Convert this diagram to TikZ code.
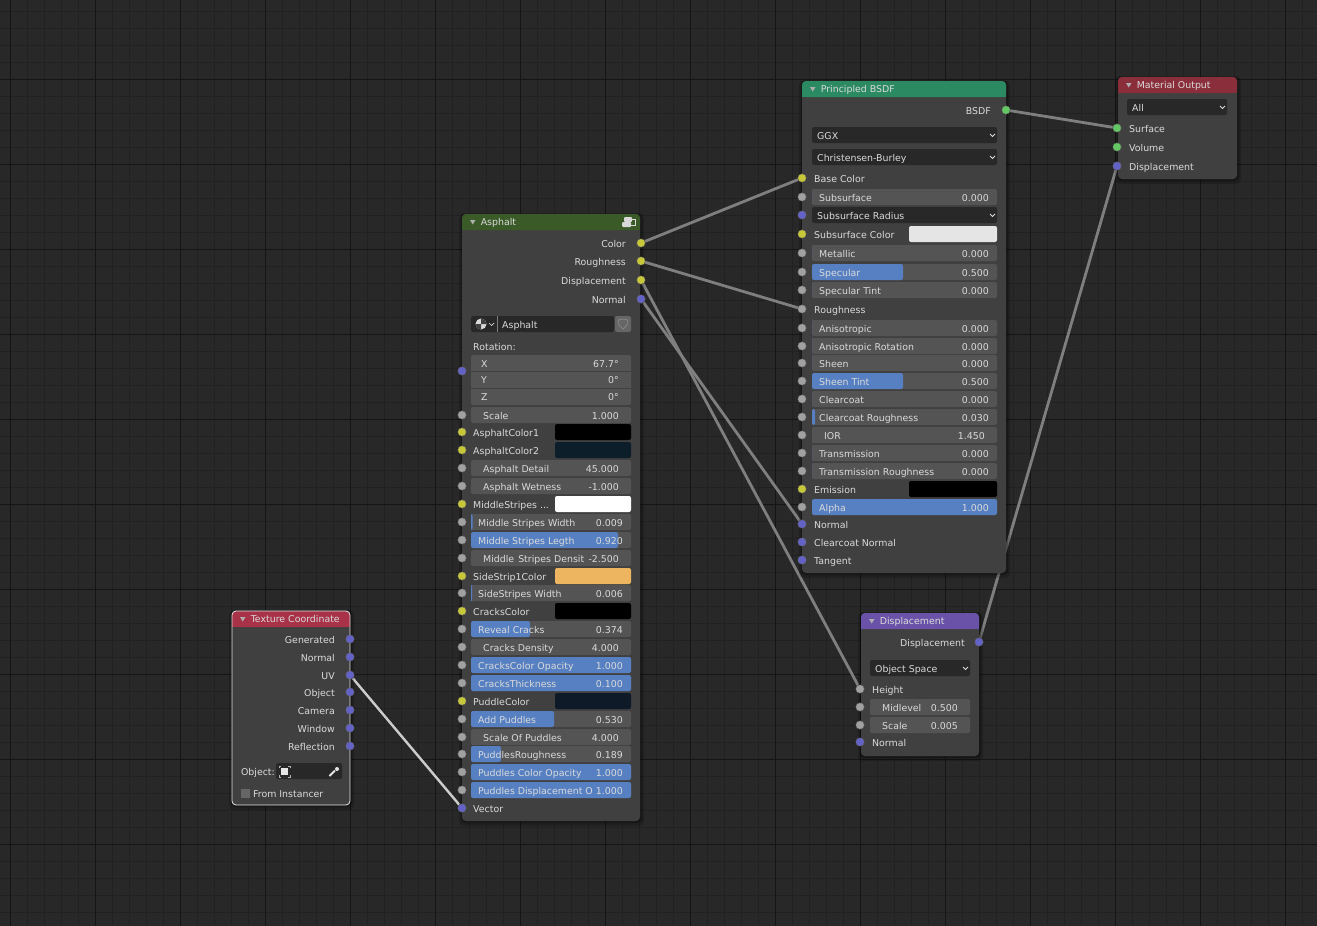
\documentclass[tikz,border=0pt]{standalone}
\usepackage{fontspec}
\setmainfont{DejaVu Sans}
\pgfdeclarelayer{gridlayer}
\pgfdeclarelayer{linklayer}
\pgfsetlayers{gridlayer,linklayer,main}
\definecolor{bgcol}{HTML}{282828}
\definecolor{minorcol}{HTML}{212121}
\definecolor{majorcol}{HTML}{151515}
\definecolor{bodycol}{HTML}{404040}
\definecolor{fieldcol}{HTML}{545454}
\definecolor{menucol}{HTML}{282828}
\definecolor{barcol}{HTML}{5680C2}
\definecolor{textcol}{HTML}{DADADA}
\definecolor{yellowcol}{HTML}{C7C73A}
\definecolor{greycol}{HTML}{A1A1A1}
\definecolor{bluecol}{HTML}{6363C7}
\definecolor{greencol}{HTML}{63C763}
\definecolor{linkcol}{HTML}{7F7F7F}
\definecolor{hdgreen}{HTML}{3A5A28}
\definecolor{hdbsdf}{HTML}{2B8A62}
\definecolor{hdmat}{HTML}{8A2E3C}
\definecolor{hdtex}{HTML}{A83248}
\definecolor{hddisp}{HTML}{6A52A8}
\definecolor{swdark}{HTML}{0C1E2A}
\definecolor{swpud}{HTML}{0F1A28}
\definecolor{swside}{HTML}{EDB55F}
\definecolor{btncol}{HTML}{666666}
\tikzset{
  sock/.style={circle,inner sep=0pt,minimum size=8.4pt,draw=black!60,line width=.3pt},
  socky/.style={sock,fill=yellowcol},
  sockg/.style={sock,fill=greycol},
  sockb/.style={sock,fill=bluecol},
  sockn/.style={sock,fill=greencol},
  txt/.style={inner sep=0pt,text height=10.5pt,text depth=2pt,text=textcol,font=\fontsize{9.4}{11}\selectfont},
  link/.style={line width=2.8pt,color=linkcol},
  linksel/.style={line width=2.4pt,color=white!80!black},
}
% position of the current panel
\newcommand{\panel}[3]{\def\sx{#1}\def\fl{#2}\def\fr{#3}}
\newcommand{\nodebox}[7]{%
  \fill[black,opacity=.18,rounded corners=5] (#2-3,#3-1) rectangle (#4+4,#5+5);
  \fill[black,opacity=.25,rounded corners=4] (#2-1,#3) rectangle (#4+2,#5+2);
  \fill[bodycol,rounded corners=4] (#2,#3) rectangle (#4,#5);
  \fill[#6,rounded corners=4] (#2,#3+16) -- (#2,#3) -- (#4,#3) -- (#4,#3+16) -- cycle;
  \fill[#6] (#2,#3+8) rectangle (#4,#3+16);
  \fill[textcol!80!black] (#2+8,#3+6) -- (#2+13.5,#3+6) -- (#2+10.75,#3+10.5) -- cycle;
  \node[txt,anchor=west] (#1t) at (#2+18.6,#3+7.5) {#7};
}
\newcommand{\inrow}[4]{%
  \node[#4] (#1) at (\sx,#2) {};
  \node[txt,anchor=west] (#1l) at (\fl+2,#2) {#3};
}
\newcommand{\outrow}[4]{%
  \node[#4] (#1) at (\fr+10,#2) {};
  \node[txt,anchor=east] (#1l) at (\fr-5,#2) {#3};
}
\newcommand{\numrow}[4]{%
  \node[sockg] (#1) at (\sx,#2) {};
  \fill[fieldcol,rounded corners=2] (\fl,#2-8) rectangle (\fr,#2+8);
  \node[txt,anchor=west] (#1l) at (\fl+12,#2) {#3};
  \node[txt,anchor=east] (#1v) at (\fr-12,#2) {#4};
}
\newcommand{\facrow}[5]{%
  \node[sockg] (#1) at (\sx,#2) {};
  \fill[fieldcol,rounded corners=2] (\fl,#2-8) rectangle (\fr,#2+8);
  \fill[barcol,rounded corners=2] (\fl,#2-8) rectangle (#5,#2+8);
  \node[txt,anchor=west] (#1l) at (\fl+7,#2) {#3};
  \node[txt,anchor=east] (#1v) at (\fr-8,#2) {#4};
}
\newcommand{\colrow}[5]{%
  \node[socky] (#1) at (\sx,#2) {};
  \node[txt,anchor=west] (#1l) at (\fl+2,#2) {#3};
  \fill[#5,rounded corners=2] (#4,#2-8) rectangle (\fr,#2+8);
}
\newcommand{\menurow}[3]{%
  \fill[menucol,rounded corners=2] (\fl,#2-8) rectangle (\fr,#2+8);
  \node[txt,anchor=west] (#1l) at (\fl+5,#2) {#3};
  \draw[textcol,line width=.8pt] (\fr-7,#2-1) -- (\fr-4.5,#2+1.5) -- (\fr-2,#2-1);
}
\begin{document}
\begin{tikzpicture}[x=1pt,y=-1pt]
\useasboundingbox (0,0) rectangle (1317,926);
\begin{pgfonlayer}{gridlayer}
\fill[bgcol] (0,0) rectangle (1317,926);
\foreach \gx in {0,...,77} \draw[minorcol,line width=1pt] (10+17*\gx,0) -- (10+17*\gx,926);
\foreach \gy in {0,...,54} \draw[minorcol,line width=1pt] (0,11+17*\gy) -- (1317,11+17*\gy);
\foreach \gx in {0,...,15} \draw[majorcol,line width=1pt] (10+85*\gx,0) -- (10+85*\gx,926);
\foreach \gy in {0,...,10} \draw[majorcol,line width=1pt] (0,79+85*\gy-85) -- (1317,79+85*\gy-85);
\end{pgfonlayer}

% texture coordinate
\nodebox{tex}{232}{611}{350}{805}{hdtex}{Texture Coordinate}
\draw[white!90!black,line width=.8pt,rounded corners=4] (232,611) rectangle (350,805);
\panel{232}{241}{340}
\outrow{texgen}{639}{Generated}{sockb}
\outrow{texnor}{657}{Normal}{sockb}
\outrow{texuv}{675}{UV}{sockb}
\outrow{texobj}{692}{Object}{sockb}
\outrow{texcam}{710}{Camera}{sockb}
\outrow{texwin}{728}{Window}{sockb}
\outrow{texref}{746}{Reflection}{sockb}
\node[txt,anchor=east] (texobjl2) at (275,771) {Object:};
\fill[menucol,rounded corners=2] (276,763) rectangle (342,779);
\fill[white!90!black] (281,768) rectangle (288,775);
\draw[white!70!black,line width=.5pt] (279,768) -- (279,766) -- (281,766) (288,766) -- (290,766) -- (290,768) (290,775) -- (290,777) -- (288,777) (281,777) -- (279,777) -- (279,775);
\draw[white!90!black,line width=1.8pt] (329.5,776) -- (335,770.5);
\fill[white!90!black] (337,769) circle (2);
\fill[btncol] (241,789) rectangle (250,798);
\node[txt,anchor=west] (texinst) at (253,793) {From Instancer};

% asphalt group
\nodebox{asp}{462}{214}{640}{821}{hdgreen}{Asphalt}
\fill[white!85!black,rounded corners=1] (624,217) rectangle (632,222);
\fill[white!85!black,rounded corners=1] (622,222) rectangle (631,227);
\draw[white!85!black,line width=.7pt] (632,219) -- (635,219) -- (635,225) -- (631,225);
\panel{462}{471}{631}
\outrow{aspcol}{243}{Color}{socky}
\outrow{asprough}{261}{Roughness}{socky}
\outrow{aspdisp}{280}{Displacement}{socky}
\outrow{aspnor}{299}{Normal}{sockb}
\fill[menucol,rounded corners=2] (471,316) rectangle (614,332);
\fill[btncol,rounded corners=2] (615,316) rectangle (631,332);
\draw[white!55!black,line width=.7pt] (618.5,320) -- (623,319) -- (627.5,320) -- (627,325) -- (623,329) -- (619,325) -- cycle;
\draw[menucol!60!white,line width=.5pt] (497,316) -- (497,332);
\fill[white!85!black] (481,324) circle (5.5);
\fill[black!75] (481,324) -- (481,318.5) arc (-90:0:5.5) -- cycle;
\fill[black!75] (481,324) -- (481,329.5) arc (90:180:5.5) -- cycle;
\draw[textcol,line width=.7pt] (489,323) -- (491.5,325.5) -- (494,323);
\node[txt,anchor=west] (aspname) at (502,324) {Asphalt};
\node[txt,anchor=west] (asprot) at (473,346) {Rotation:};
\node[sockb] (asprotin) at (462,371) {};
\fill[fieldcol,rounded corners=2] (471,355) rectangle (631,405);
\draw[bodycol,line width=.8pt] (471,371.5) -- (631,371.5);
\draw[bodycol,line width=.8pt] (471,388.5) -- (631,388.5);
\node[txt,anchor=west] (aspxl) at (481,363) {X};
\node[txt,anchor=east] (aspxv) at (619,363) {67.7°};
\node[txt,anchor=west] (aspyl) at (481,379) {Y};
\node[txt,anchor=east] (aspyv) at (619,379) {0°};
\node[txt,anchor=west] (aspzl) at (481,396) {Z};
\node[txt,anchor=east] (aspzv) at (619,396) {0°};
\numrow{aspscale}{415}{Scale}{1.000}
\colrow{aspc1}{432}{AsphaltColor1}{555}{black}
\colrow{aspc2}{450}{AsphaltColor2}{555}{swdark}
\numrow{aspdet}{468}{Asphalt Detail}{45.000}
\numrow{aspwet}{486}{Asphalt Wetness}{-1.000}
\colrow{aspmid}{504}{MiddleStripes ...}{555}{white}
\facrow{aspmw}{522}{Middle Stripes Width}{0.009}{472.5}
\facrow{aspml}{540}{Middle Stripes Legth}{0.920}{618}
\numrow{aspmd}{558}{Middle\kern4pt Stripes Densit}{-2.500}
\colrow{aspside}{576}{SideStrip1Color}{555}{swside}
\facrow{aspsw}{593}{SideStripes Width}{0.006}{472}
\colrow{aspcrack}{611}{CracksColor}{555}{black}
\facrow{asprev}{629}{Reveal Cracks}{0.374}{530}
\numrow{aspcd}{647}{Cracks Density}{4.000}
\facrow{aspcco}{665}{CracksColor Opacity}{1.000}{631}
\facrow{aspct}{683}{CracksThickness}{0.100}{631}
\colrow{asppud}{701}{PuddleColor}{555}{swpud}
\facrow{aspadd}{719}{Add Puddles}{0.530}{554}
\numrow{asppsc}{737}{Scale Of Puddles}{4.000}
\facrow{asppr}{754}{PuddlesRoughness}{0.189}{501}
\facrow{asppco}{772}{Puddles Color Opacity}{1.000}{631}
\facrow{asppd}{790}{Puddles Displacement O}{1.000}{631}
\inrow{aspvec}{808}{Vector}{sockb}

% principled
\nodebox{bsdf}{802}{81}{1006}{573}{hdbsdf}{Principled BSDF}
\panel{802}{812}{997}
\node[sockn] (bsdfout) at (1006,110) {};
\node[txt,anchor=east] (bsdfoutl) at (991,110) {BSDF};
\menurow{bsdfggx}{135}{GGX}
\menurow{bsdfcb}{157}{Christensen-Burley}
\inrow{bsdfbase}{178}{Base Color}{socky}
\facrow{bsdfss}{197}{Subsurface}{0.000}{812}
\node[sockb] (bsdfssr) at (802,215) {};
\menurow{bsdfssrm}{215}{Subsurface Radius}
\colrow{bsdfssc}{234}{Subsurface Color}{909}{white!90!black}
\facrow{bsdfmet}{253}{Metallic}{0.000}{812}
\facrow{bsdfspec}{272}{Specular}{0.500}{903}
\facrow{bsdfst}{290}{Specular Tint}{0.000}{812}
\inrow{bsdfrough}{309}{Roughness}{sockg}
\facrow{bsdfani}{328}{Anisotropic}{0.000}{812}
\facrow{bsdfar}{346}{Anisotropic Rotation}{0.000}{812}
\facrow{bsdfsh}{363}{Sheen}{0.000}{812}
\facrow{bsdfsht}{381}{Sheen Tint}{0.500}{903}
\facrow{bsdfcc}{399}{Clearcoat}{0.000}{812}
\facrow{bsdfccr}{417}{Clearcoat Roughness}{0.030}{815}
\numrow{bsdfior}{435}{IOR}{1.450}
\facrow{bsdftr}{453}{Transmission}{0.000}{812}
\facrow{bsdftrr}{471}{Transmission Roughness}{0.000}{812}
\colrow{bsdfem}{489}{Emission}{909}{black}
\facrow{bsdfal}{507}{Alpha}{1.000}{997}
\inrow{bsdfnor}{524}{Normal}{sockb}
\inrow{bsdfcn}{542}{Clearcoat Normal}{sockb}
\inrow{bsdftan}{560}{Tangent}{sockb}

% displacement
\nodebox{dis}{861}{613}{979}{756}{hddisp}{Displacement}
\panel{860}{870}{970}
\node[sockb] (disout) at (979,642) {};
\node[txt,anchor=east] (disoutl) at (965,642) {Displacement};
\menurow{dissp}{668}{Object Space}
\inrow{dish}{689}{Height}{sockg}
\numrow{dism}{707}{Midlevel}{0.500}
\numrow{diss}{725}{Scale}{0.005}
\inrow{disn}{742}{Normal}{sockb}

% material output
\nodebox{mat}{1118}{77}{1237}{179}{hdmat}{Material Output}
\panel{1117}{1127}{1227}
\menurow{matall}{107}{All}
\inrow{matsurf}{128}{Surface}{sockn}
\inrow{matvol}{147}{Volume}{sockn}
\inrow{matdisp}{166}{Displacement}{sockb}

\begin{pgfonlayer}{linklayer}
\draw[link] (bsdfout)--(matsurf);
\draw[link] (aspcol)--(bsdfbase);
\draw[link] (asprough)--(bsdfrough);
\draw[link] (aspnor)--(bsdfnor);
\draw[link] (aspdisp)--(dish);
\draw[link] (disout)--(matdisp);
\draw[linksel] (texuv)--(aspvec);
\end{pgfonlayer}
\end{tikzpicture}
\end{document}
